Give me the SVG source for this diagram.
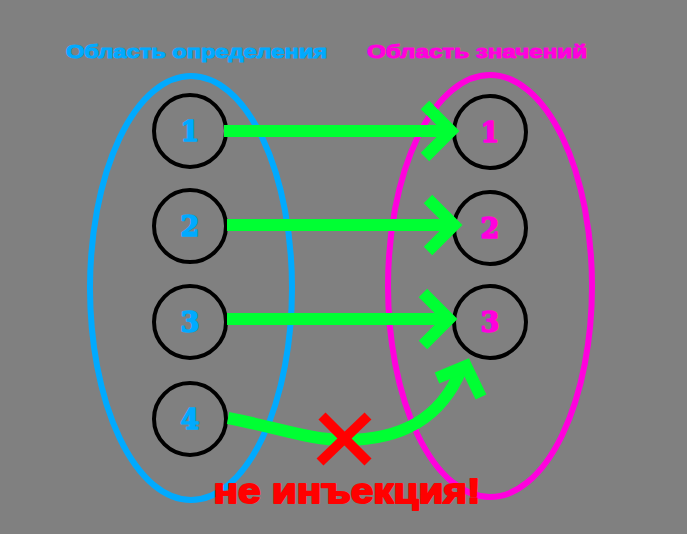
<svg xmlns="http://www.w3.org/2000/svg" width="687" height="534" viewBox="0 0 687 534">
<style>
.set{fill:none;stroke-width:6}
.node circle{fill:none;stroke:#000;stroke-width:4}
.num{font-family:"DejaVu Serif",serif;font-weight:bold;font-size:27px;text-anchor:middle;stroke-width:1.6;stroke-linejoin:round}
.blue{fill:#00aaff;stroke:#00aaff}
.mag{fill:#ff00dd;stroke:#ff00dd}
.arr{fill:none;stroke:#00ff33;stroke-width:12;stroke-linecap:butt;stroke-linejoin:miter}
.title{font-family:"Liberation Sans",Arial,sans-serif;font-weight:bold;font-size:18px;stroke-width:1;stroke-linejoin:round}
</style>
<rect width="687" height="534" fill="#808080"/>
<text class="title blue" x="66" y="58" textLength="261" lengthAdjust="spacingAndGlyphs">Область определения</text>
<text class="title mag" x="367" y="58" textLength="220" lengthAdjust="spacingAndGlyphs">Область значений</text>
<g id="domain"><ellipse class="set" cx="191" cy="288" rx="101" ry="212" stroke="#00aaff"/></g>
<g id="codomain"><ellipse class="set" cx="490" cy="286" rx="102" ry="211" stroke="#ff00dd"/></g>
<g id="a1" class="node"><circle cx="190" cy="131" r="36"/><text class="num blue" x="190" y="141">1</text></g>
<g id="a2" class="node"><circle cx="190" cy="226" r="36"/><text class="num blue" x="190" y="236">2</text></g>
<g id="a3" class="node"><circle cx="190" cy="322" r="36"/><text class="num blue" x="190" y="332">3</text></g>
<g id="a4" class="node"><circle cx="190" cy="419" r="36"/><text class="num blue" x="190" y="429">4</text></g>
<g id="b1" class="node"><circle cx="490" cy="132" r="36"/><text class="num mag" x="490" y="142">1</text></g>
<g id="b2" class="node"><circle cx="490" cy="228" r="36"/><text class="num mag" x="490" y="238">2</text></g>
<g id="b3" class="node"><circle cx="490" cy="322" r="36"/><text class="num mag" x="490" y="332">3</text></g>
<g id="connectors">
<path class="arr" d="M224 131 H448"/>
<path class="arr" d="M425 105 L451 131 L425 157"/>
<path class="arr" d="M227 225 H450"/>
<path class="arr" d="M428 199 L454 225 L428 251"/>
<path class="arr" d="M227 319 H446"/>
<path class="arr" d="M423 293 L449 319 L423 345"/>
<path class="arr" d="M228 418 C280 428 310 440 345 440 C400 440 440 420 461 370"/>
<path class="arr" d="M437 378 L466 366 L481 397"/>
<g stroke="#ff0000" stroke-width="10" fill="none">
<path d="M322 416 L368 462"/>
<path d="M368 416 L320 462"/>
</g>
</g>
<text x="347" y="503" font-family="Liberation Sans,Arial,sans-serif" font-weight="bold" font-size="35" fill="#ff0000" stroke="#ff0000" stroke-width="2" stroke-linejoin="round" text-anchor="middle" textLength="267" lengthAdjust="spacingAndGlyphs">не инъекция!</text>
</svg>
